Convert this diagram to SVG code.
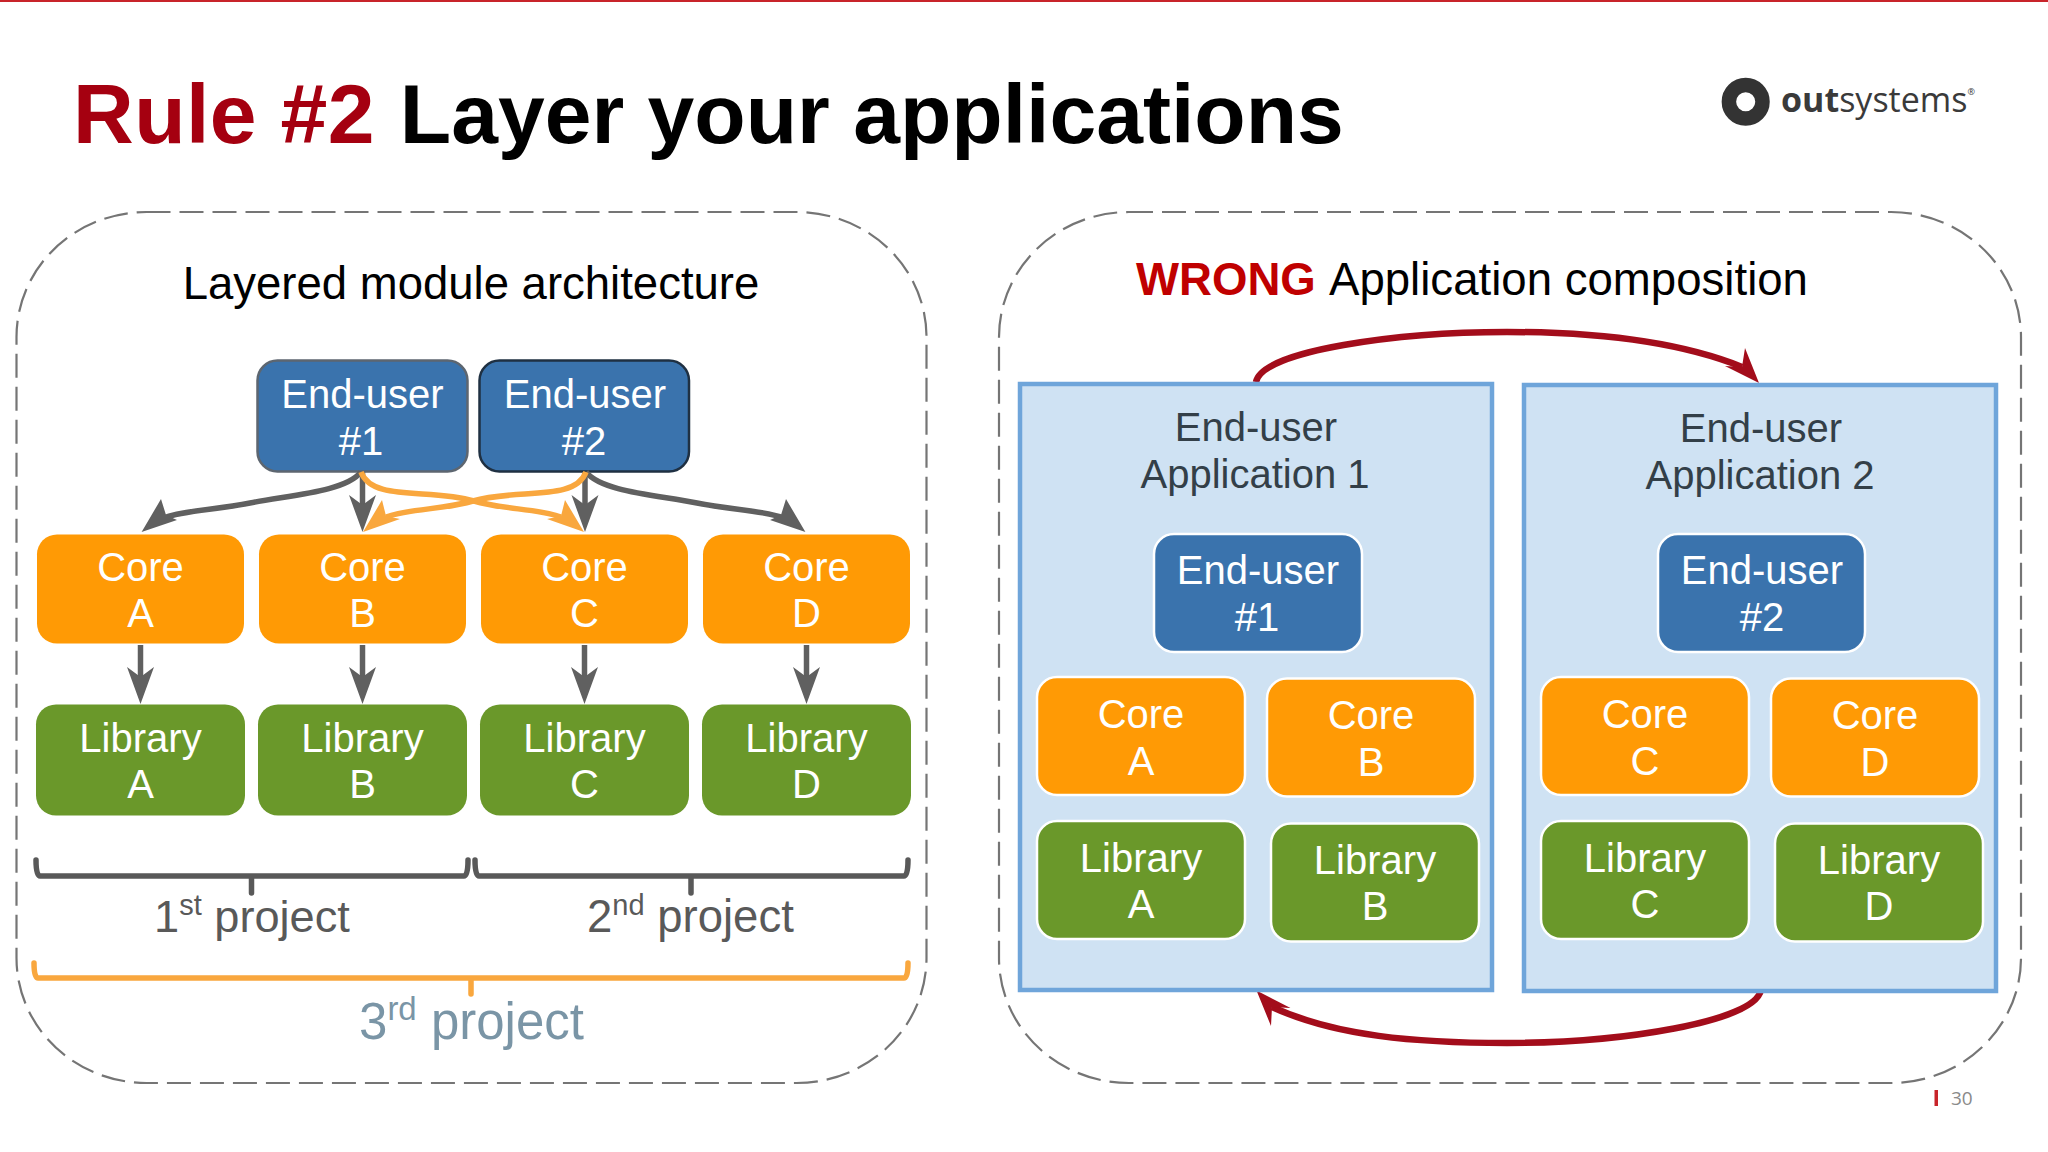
<svg xmlns="http://www.w3.org/2000/svg" width="2048" height="1152" viewBox="0 0 2048 1152">
<style>
text{font-family:"Liberation Sans",Arial,sans-serif}
.n{font-size:40px;fill:#fff;text-anchor:middle}
.p{font-size:40px;fill:#333f48;text-anchor:middle}
.eu{fill:#3a73ad}
.eo{stroke:#1f3042;stroke-width:2.5}
.c{fill:#ff9a05}
.l{fill:#6a982a}
.w{stroke:#fff;stroke-width:2.5}
.dash{fill:none;stroke:#757575;stroke-width:2.2;stroke-dasharray:24 9}
.panel{fill:#cfe2f3;stroke:#6fa5da;stroke-width:4.5}
.g{fill:none;stroke:#606060;stroke-width:5.5}
.gm{marker-end:url(#ag)}
.gh{fill:#606060}
.o{fill:none;stroke:#f9a73e;stroke-width:5.5}
.oh{fill:#f9a73e}
.r{fill:none;stroke:#a30d1b;stroke-width:6.5}
.rh{fill:#a30d1b}
.bg{fill:none;stroke:#595959;stroke-width:5.5;stroke-linejoin:round;stroke-linecap:round}
.bo{fill:none;stroke:#f9a73e;stroke-width:5.5;stroke-linejoin:round;stroke-linecap:round}
</style>
<defs>
<marker id="ag" markerUnits="userSpaceOnUse" markerWidth="60" markerHeight="60" refX="20" refY="30" orient="auto"><path d="M47 30 L10 16.500 L20 30 L10 43.500 Z" fill="#606060"/></marker>
</defs>
<rect width="2048" height="1152" fill="#fff"/>
<rect x="0" y="0" width="2048" height="2" fill="#c8242a"/>
<text x="73" y="143" font-size="84.100" font-weight="bold" fill="#a50010"><tspan letter-spacing="0.4">Rule #2</tspan><tspan fill="#000" dx="1.500"> Layer your applications</tspan></text>
<g id="logo"><circle cx="1745.700" cy="101.700" r="16.800" fill="none" stroke="#333" stroke-width="14.500"/><text x="1781" y="111.500" font-size="34" fill="#3a3a3a" style="font-family:'Open Sans','Noto Sans',sans-serif"><tspan font-weight="bold">out</tspan>systems<tspan font-size="9" dy="-17">®</tspan></text></g>
<g id="page-number"><rect x="1934.500" y="1090" width="3.500" height="16" fill="#c8242a"/><text x="1951" y="1105" font-size="19" fill="#8a8a8a" style="font-family:'Open Sans',sans-serif">30</text></g>

<g id="left-frame"><rect class="dash" x="16.500" y="212" width="910" height="871" rx="130" ry="125"/>
<text x="471" y="299" font-size="45.500" fill="#000" text-anchor="middle">Layered module architecture</text></g>
<g id="right-frame"><rect class="dash" x="999" y="212" width="1022" height="871" rx="130" ry="125"/>
<text x="1136" y="295" font-size="45.600" fill="#000"><tspan font-weight="bold" fill="#c00000">WRONG</tspan><tspan dx="3"> Application composition</tspan></text></g>

<g id="eu1"><rect class="eu" x="257.500" y="360.500" width="210" height="111" rx="20" stroke="#5d6670" stroke-width="2.500"/><text class="n" x="362.500" y="408">End-user</text><text class="n" x="361" y="455">#1</text></g>
<g id="eu2"><rect class="eu eo" x="479.500" y="360.500" width="209.500" height="111" rx="20"/><text class="n" x="585" y="408">End-user</text><text class="n" x="584" y="455">#2</text></g>

<g id="coreA"><rect class="c" x="37" y="534.500" width="207" height="109" rx="20"/><text class="n" x="140.500" y="581">Core</text><text class="n" x="140.500" y="627">A</text></g>
<g id="coreB"><rect class="c" x="259" y="534.500" width="207" height="109" rx="20"/><text class="n" x="362.500" y="581">Core</text><text class="n" x="362.500" y="627">B</text></g>
<g id="coreC"><rect class="c" x="481" y="534.500" width="207" height="109" rx="20"/><text class="n" x="584.500" y="581">Core</text><text class="n" x="584.500" y="627">C</text></g>
<g id="coreD"><rect class="c" x="703" y="534.500" width="207" height="109" rx="20"/><text class="n" x="806.500" y="581">Core</text><text class="n" x="806.500" y="627">D</text></g>

<g id="libA"><rect class="l" x="36" y="704.500" width="209" height="111" rx="20"/><text class="n" x="140.500" y="752">Library</text><text class="n" x="140.500" y="798">A</text></g>
<g id="libB"><rect class="l" x="258" y="704.500" width="209" height="111" rx="20"/><text class="n" x="362.500" y="752">Library</text><text class="n" x="362.500" y="798">B</text></g>
<g id="libC"><rect class="l" x="480" y="704.500" width="209" height="111" rx="20"/><text class="n" x="584.500" y="752">Library</text><text class="n" x="584.500" y="798">C</text></g>
<g id="libD"><rect class="l" x="702" y="704.500" width="209" height="111" rx="20"/><text class="n" x="806.500" y="752">Library</text><text class="n" x="806.500" y="798">D</text></g>

<g id="connectors">
<path class="g" d="M361 472 C345 492 290 495 250 503 C215 510 185 510 163 518"/>
<polygon class="gh" points="141.600,532 161,499 166,515 177,520"/>
<path class="g" d="M586 472 C602 492 657 495 697 503 C732 510 762 510 784 518"/>
<polygon class="gh" points="805.400,532 786,499 781,515 770,520"/>
<path class="g gm" d="M362.500 472 L362.500 505"/>
<path class="g gm" d="M585 472 L585 505"/>
<path class="o" d="M361 472 C372 502 430 488 474 501 C505 510 535 508 561 517"/>
<polygon class="oh" points="584,532 565,500 561,516 547,519"/>
<path class="o" d="M586 472 C575 502 517 488 473 501 C442 510 412 508 386 517"/>
<polygon class="oh" points="363,532 382,500 386,516 400,519"/>
<path class="g gm" d="M140.500 645 L140.500 677"/>
<path class="g gm" d="M362.500 645 L362.500 677"/>
<path class="g gm" d="M584.500 645 L584.500 677"/>
<path class="g gm" d="M806.500 645 L806.500 677"/>
<path class="r" d="M1256 382 C1262 350 1400 332 1507 332 C1600 332 1680 342 1742 367"/>
<polygon class="rh" points="1759,383 1745,348 1742,367 1725,366"/>
<path class="r" d="M1761 990 C1755 1022 1620 1043 1507 1043 C1415 1043 1335 1036 1272 1007"/>
<polygon class="rh" points="1256.500,990.500 1271,1026 1272,1007 1290.500,1008"/>
</g>

<g id="brackets">
<path class="bg" d="M36 860 Q36 876 40 876 L464 876 Q468 876 468 860 M251.500 876 L251.500 893"/>
<path class="bg" d="M475 860 Q475 876 479 876 L904 876 Q908 876 908 860 M691 876 L691 893"/>
<path class="bo" d="M34 963 Q34 978 38 978 L904 978 Q908 978 908 963 M471 978 L471 994"/>
<text x="154" y="932" font-size="45.200" fill="#595959">1<tspan font-size="29" dy="-17">st</tspan><tspan dy="17"> project</tspan></text>
<text x="587" y="932" font-size="45.500" fill="#595959">2<tspan font-size="29" dy="-17">nd</tspan><tspan dy="17"> project</tspan></text>
<text x="359" y="1039" font-size="51" fill="#7a95a6">3<tspan font-size="33" dy="-19">rd</tspan><tspan dy="19"> project</tspan></text>
</g>

<g id="app1"><rect class="panel" x="1020" y="384" width="472" height="606"/><text class="p" x="1256" y="441">End-user</text><text class="p" x="1255" y="488">Application 1</text></g>
<g id="app2"><rect class="panel" x="1524" y="385" width="472" height="606"/><text class="p" x="1761" y="442">End-user</text><text class="p" x="1760" y="489">Application 2</text></g>

<g id="app1-eu"><rect class="eu w" x="1154" y="534" width="208" height="118" rx="20"/><text class="n" x="1258" y="584">End-user</text><text class="n" x="1257" y="631">#1</text></g>
<g id="app2-eu"><rect class="eu w" x="1658" y="534" width="207" height="118" rx="20"/><text class="n" x="1762" y="584">End-user</text><text class="n" x="1762" y="631">#2</text></g>

<g id="app1-coreA"><rect class="c w" x="1037" y="677" width="208" height="118" rx="20"/><text class="n" x="1141" y="728">Core</text><text class="n" x="1141" y="775">A</text></g>
<g id="app1-coreB"><rect class="c w" x="1267" y="678.500" width="208" height="118" rx="20"/><text class="n" x="1371" y="729">Core</text><text class="n" x="1371" y="776">B</text></g>
<g id="app2-coreC"><rect class="c w" x="1541" y="677" width="208" height="118" rx="20"/><text class="n" x="1645" y="728">Core</text><text class="n" x="1645" y="775">C</text></g>
<g id="app2-coreD"><rect class="c w" x="1771" y="678.500" width="208" height="118" rx="20"/><text class="n" x="1875" y="729">Core</text><text class="n" x="1875" y="776">D</text></g>

<g id="app1-libA"><rect class="l w" x="1037" y="821" width="208" height="118" rx="20"/><text class="n" x="1141" y="872">Library</text><text class="n" x="1141" y="918">A</text></g>
<g id="app1-libB"><rect class="l w" x="1271" y="823.500" width="208" height="118" rx="20"/><text class="n" x="1375" y="874">Library</text><text class="n" x="1375" y="920">B</text></g>
<g id="app2-libC"><rect class="l w" x="1541" y="821" width="208" height="118" rx="20"/><text class="n" x="1645" y="872">Library</text><text class="n" x="1645" y="918">C</text></g>
<g id="app2-libD"><rect class="l w" x="1775" y="823.500" width="208" height="118" rx="20"/><text class="n" x="1879" y="874">Library</text><text class="n" x="1879" y="920">D</text></g>
</svg>
